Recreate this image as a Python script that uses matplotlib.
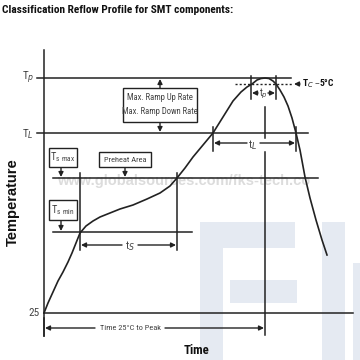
import matplotlib
matplotlib.use("Agg")
import matplotlib.pyplot as plt
from matplotlib.patches import Rectangle
from matplotlib import font_manager
from matplotlib.font_manager import FontProperties

# ---- data (diagram coordinates: x = time, y = screen-like temperature position) ----
curve_time = [44, 48, 53, 58, 63, 68, 72, 76, 80, 86, 93, 100, 110, 120, 133, 147, 160,
              170, 177, 185, 193, 203, 213, 223, 233, 241, 247, 252, 257, 261, 265, 269,
              273, 276, 280, 284, 288, 292, 296, 300, 305, 310, 316, 322, 327]
curve_temp = [313, 303, 292, 281, 272, 262, 253, 243, 233, 226, 221, 217, 213, 209, 205,
              199, 193, 186, 178, 168, 157, 145, 133, 117, 101, 92, 87, 84, 80, 78.5, 78,
              78.5, 81, 84, 90, 97, 106, 118, 133, 150, 177, 198, 220, 240, 255]

level_names = ["Tp", "TL", "Ts max", "Ts min", "25"]
level_y = [78, 133, 178, 232, 313]

LINE = "#222222"
TXT = "#444444"

# pick condensed font files (regular and bold) if installed
def is_cond(f):
    s = (f.name + " " + f.fname + " " + str(f.stretch)).lower()
    return ("narrow" in s) or ("condensed" in s)

def wnum(w):
    if isinstance(w, (int, float)):
        return w
    return {"bold": 700, "heavy": 800, "black": 900, "semibold": 600, "demibold": 600,
            "medium": 500, "normal": 400, "regular": 400, "light": 300}.get(str(w).lower(), 400)

conds = [f for f in font_manager.fontManager.ttflist if is_cond(f)]
regs = [f for f in conds if wnum(f.weight) < 500 and f.style == "normal"]
bolds = [f for f in conds if wnum(f.weight) >= 600 and f.style == "normal"]

def pick(lst, prefer):
    for p in prefer:
        for f in lst:
            if p in f.fname.lower() or p in f.name.lower():
                return f
    return lst[0] if lst else None

pref = ["liberationsansnarrow", "liberation sans narrow", "roboto", "dejavu"]
freg = pick(regs, pref)
fbold = pick(bolds, pref)

def FP(size, bold=False):
    f = fbold if bold else freg
    if f is not None:
        return FontProperties(fname=f.fname, size=size)
    return FontProperties(family="DejaVu Sans", size=size * 0.85,
                          weight="bold" if bold else "normal")

fig = plt.figure(figsize=(3.6, 3.6), dpi=100)
ax = fig.add_axes([0, 0, 1, 1])
ax.set_xlim(0, 360)
ax.set_ylim(360, 0)
ax.axis("off")

# background logo blocks
bg = "#e5eaf2"
for (x0, y0, w, h) in [(200, 222, 23, 140), (200, 222, 95, 26), (230, 280, 67, 23),
                       (322, 222, 23, 140), (353, 263, 10, 100)]:
    ax.add_patch(Rectangle((x0, y0), w, h, color=bg, zorder=0, lw=0))

# watermark
ax.text(184, 181, "www.globalsources.com/fks-tech.co", color="#dcdcdc", fontsize=10.5,
        ha="center", va="center", fontweight="bold", zorder=1,
        family=["Liberation Sans", "DejaVu Sans"])

lw = 1.1
# axes
ax.plot([44, 44], [50, 336], color=LINE, lw=lw)
ax.plot([44, 353], [313, 313], color=LINE, lw=lw)
# level lines
ax.plot([37, 291], [78, 78], color=LINE, lw=lw)
ax.plot([37, 308], [133, 133], color=LINE, lw=lw)
ax.plot([53, 318], [178, 178], color=LINE, lw=lw)
ax.plot([53, 192], [232, 232], color=LINE, lw=lw)
ax.plot([235, 293], [84, 84], color=LINE, lw=1.0, ls=(0, (1.5, 1.5)))

# vertical markers
ax.plot([265, 265], [107, 138], color=LINE, lw=lw)
ax.plot([265, 265], [152, 335], color=LINE, lw=lw)
ax.plot([80, 80], [173, 250], color=LINE, lw=lw)
ax.plot([177, 177], [173, 250], color=LINE, lw=lw)
ax.plot([213, 213], [127, 151], color=LINE, lw=lw)
ax.plot([296, 296], [127, 151], color=LINE, lw=lw)
ax.plot([251, 251], [76, 99], color=LINE, lw=lw)
ax.plot([276, 276], [76, 99], color=LINE, lw=lw)
ax.plot([44, 44], [318, 336], color=LINE, lw=lw)

# curve
ax.plot(curve_time, curve_temp, color=LINE, lw=1.2, zorder=3)

ap = dict(arrowstyle="-|>", color=LINE, lw=1.0, mutation_scale=7, shrinkA=0, shrinkB=0)

def arr(x0, y0, x1, y1):
    ax.annotate("", xy=(x1, y1), xytext=(x0, y0), arrowprops=ap)

def T(x, y, s, size, bold=False, color=TXT, **kw):
    kw.setdefault("ha", "center")
    kw.setdefault("va", "center")
    return ax.text(x, y, s, fontproperties=FP(size, bold), color=color, **kw)

# dimension arrows
arr(122, 245, 81, 245); arr(138, 245, 176, 245)
T(130, 246, "t$_S$", 8)
arr(247, 143, 214, 143); arr(260, 143, 295, 143)
T(253, 145, "t$_L$", 8)
arr(258, 93, 252, 93); arr(268, 93, 275, 93)
T(263, 94, "t$_p$", 7)
arr(95, 328, 45, 328); arr(165, 328, 264, 328)
T(130, 328, "Time 25°C to Peak", 6.0)
arr(300, 84, 294, 84)
T(302, 84, "T$_C$ –5°C", 6.8, bold=True, color="#111111", ha="left")

# boxes
def box(x0, y0, x1, y1):
    ax.add_patch(Rectangle((x0, y0), x1 - x0, y1 - y0, fill=True, fc="white",
                           ec=LINE, lw=1.0, zorder=4))

box(123, 88, 197, 122)
T(160, 98, "Max. Ramp Up Rate", 6.2, zorder=5)
T(160, 112, "Max. Ramp Down Rate", 6.2, zorder=5)
arr(160, 88, 160, 79)
arr(160, 122, 160, 132)

box(49, 148, 77, 167)
T(63, 157.5, "T$_{\\mathregular{s\\ max}}$", 7.5, zorder=5)
arr(61, 168, 61, 177)
box(49, 200, 77, 220)
T(63, 210, "T$_{\\mathregular{s\\ min}}$", 7.5, zorder=5)
arr(61, 221, 61, 231)
box(99, 152, 151, 167)
T(125, 159.5, "Preheat Area", 6.0, zorder=5)
arr(125, 167, 125, 177)

# axis level labels
T(28, 78, "T$_p$", 8)
T(28, 134, "T$_L$", 8)
T(34, 313, level_names[4], 8)

ax.text(13, 202, "Temperature", fontsize=10.5, rotation=90, ha="center", va="center",
        color="#111111", fontweight="bold", family=["Liberation Sans", "DejaVu Sans"])
T(196, 350, "Time", 9.2, bold=True, color="#111111")
T(2, 10, "Classification Reflow Profile for SMT components:", 8.2, bold=True,
  color="#111111", ha="left")

fig.savefig("out.png", dpi=100)
